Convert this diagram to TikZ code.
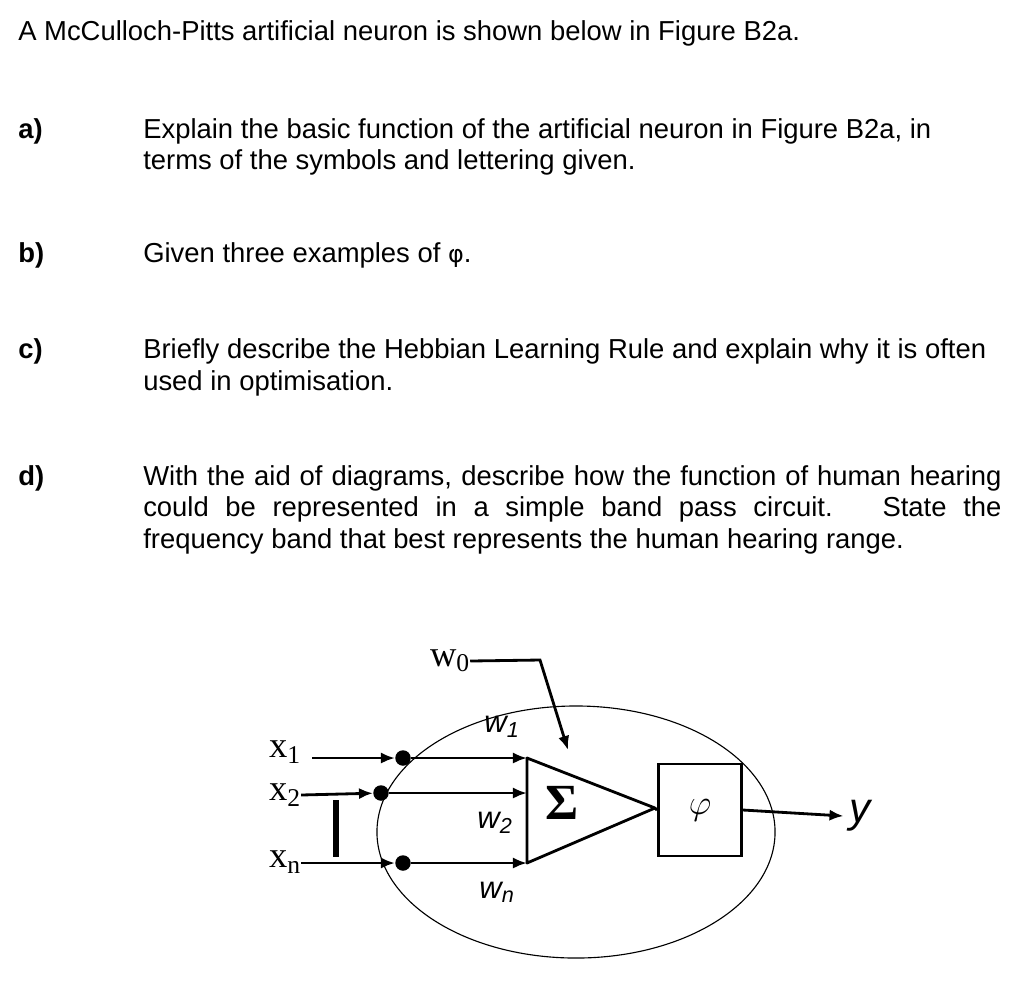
\documentclass[tikz,border=0pt]{standalone}
\usepackage{fontspec}
\setmainfont{Liberation Sans}
\newfontfamily\serifx{Liberation Serif}
\usetikzlibrary{arrows.meta,positioning}
\begin{document}
\begin{tikzpicture}[x=0.025cm,y=-0.025cm,>={Latex[length=10pt,width=8pt]}]
  \tikzset{
    txt/.style={anchor=base west, inner sep=0pt, font=\fontsize{19.5}{22}\selectfont},
    lbl/.style={txt, font=\fontsize{19.5}{22}\selectfont\bfseries},
    inp/.style={inner sep=0pt, font=\fontsize{26}{28}\selectfont\serifx},
    wgt/.style={inner sep=0pt, font=\fontsize{22}{24}\selectfont\itshape},
    dot/.style={circle, fill, inner sep=0pt, minimum size=11pt},
    wire/.style={line width=2pt},
  }
  \useasboundingbox (0,0) rectangle (1024,996);
  % question text
  \node[txt] (title) at (18,40) {A McCulloch-Pitts artificial neuron is shown below in Figure B2a.};
  \node[lbl] (qa) at (18,138) {a)};
  \node[txt] (qa1) at (143,138) {Explain the basic function of the artificial neuron in Figure B2a, in};
  \node[txt] (qa2) at (143,169) {terms of the symbols and lettering given.};
  \node[lbl] (qb) at (18,262) {b)};
  \node[txt] (qb1) at (143,262) {Given three examples of {\fontspec{DejaVu Sans}\fontsize{17}{20}\selectfont φ}.};
  \node[lbl] (qc) at (18,358) {c)};
  \node[txt] (qc1) at (143,358) {Briefly describe the Hebbian Learning Rule and explain why it is often};
  \node[txt] (qc2) at (143,390) {used in optimisation.};
  \node[lbl] (qd) at (18,485) {d)};
  \node[txt] (qd1) at (143,485) {\makebox[21.45cm][s]{With the aid of diagrams, describe how the function of human hearing}};
  \node[txt] (qd2) at (143,516) {\makebox[21.45cm][s]{could be represented in a simple band pass circuit.\ \ \ State the}};
  \node[txt] (qd3) at (143,548) {frequency band that best represents the human hearing range.};

  % neuron
  \draw[line width=0.8pt] (576,832) ellipse [x radius=4.975cm, y radius=3.15cm];
  \node[dot] (d1) at (403,758) {};
  \node[dot] (d2) at (381,793) {};
  \node[dot] (dn) at (403,863) {};
  \coordinate (t1) at (527,758);
  \coordinate (t2) at (527,793);
  \coordinate (tn) at (527,863);
  \coordinate (tip) at (655,808);
  \draw[wire, line join=round] (t1) -- (tip) -- (tn) -- cycle;
  \node[inner sep=0pt, font=\fontsize{36}{38}\selectfont\serifx\bfseries] (sig) at (562,803) {Σ};
  \node[draw, wire, minimum width=2.08cm, minimum height=2.3cm, inner sep=0pt] (phi) at (700,810) {\fontsize{34}{36}\selectfont$\varphi$};
  \draw[wire] (tip) -- (phi.west);
  \draw[wire, ->] (d1) -- (t1);
  \draw[wire, ->] (d2) -- (t2);
  \draw[wire, ->] (dn) -- (tn);
  % inputs
  \node[inp] (x1) at (285,752) {x\textsubscript{1}};
  \node[inp] (x2) at (285,795) {x\textsubscript{2}};
  \node[inp] (xn) at (285,862) {x\textsubscript{n}};
  \draw[wire, ->] (312,758) -- (d1);
  \draw[wire, ->] (x2.east) -- (d2);
  \draw[wire, ->] (xn.east |- dn) -- (dn);
  \draw[line width=4.5pt] (336,800) -- (336,857);
  % bias and weights
  \node[inp] (w0) at (450,661) {w\textsubscript{0}};
  \coordinate (bend) at (540,660);
  \draw[wire, ->] (w0.east) -- (bend) -- (568,750);
  \node[wgt] (w1) at (502,727) {w\textsubscript{1}};
  \node[wgt] (w2) at (495,823) {w\textsubscript{2}};
  \node[wgt] (wn) at (497,892) {w\textsubscript{n}};
  % output
  \node[inner sep=0pt, font=\fontsize{30}{32}\selectfont\itshape] (y) at (860,816) {y};
  \draw[wire, ->] (phi.east) -- ([xshift=-4pt]y.west);
\end{tikzpicture}
\end{document}
